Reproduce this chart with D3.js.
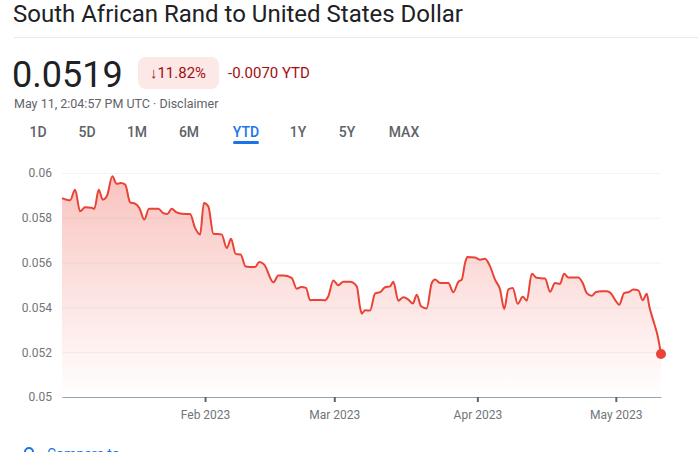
<!DOCTYPE html>
<html>
<head>
<meta charset="utf-8">
<script src="https://cdn.jsdelivr.net/npm/d3@7"></script>
<style>
  body { margin: 0; background: #fff; font-family: Roboto, Arial, sans-serif; }
  svg { display: block; }
</style>
</head>
<body>
<script>
const width = 698
const height = 452
const margin = ({top: 173, right: 37, bottom: 55, left: 62})

// rate series
const dates = [
  "2023-01-01 00", "2023-01-02 18", "2023-01-03 20", "2023-01-04 22", "2023-01-06 00",
  "2023-01-07 10", "2023-01-08 00", "2023-01-08 23", "2023-01-09 20", "2023-01-10 17",
  "2023-01-11 22", "2023-01-12 20", "2023-01-13 17", "2023-01-14 17", "2023-01-15 18",
  "2023-01-16 20", "2023-01-17 18", "2023-01-18 20", "2023-01-19 20", "2023-01-21 21",
  "2023-01-22 23", "2023-01-23 20", "2023-01-24 18", "2023-01-25 20", "2023-01-26 23",
  "2023-01-28 18", "2023-01-29 20", "2023-01-30 22", "2023-01-31 18", "2023-02-01 17",
  "2023-02-02 19", "2023-02-04 14", "2023-02-05 17", "2023-02-06 15", "2023-02-07 15",
  "2023-02-08 17", "2023-02-09 19", "2023-02-11 20", "2023-02-12 18", "2023-02-13 20",
  "2023-02-15 19", "2023-02-16 21", "2023-02-17 23", "2023-02-19 18", "2023-02-20 21",
  "2023-02-21 19", "2023-02-22 21", "2023-02-23 18", "2023-02-24 20", "2023-02-27 00",
  "2023-02-27 17", "2023-02-28 19", "2023-03-01 21", "2023-03-02 23", "2023-03-04 10",
  "2023-03-05 21", "2023-03-06 14", "2023-03-06 23", "2023-03-07 16", "2023-03-08 18",
  "2023-03-09 20", "2023-03-10 22", "2023-03-12 00", "2023-03-13 02", "2023-03-13 19",
  "2023-03-14 21", "2023-03-15 23", "2023-03-17 01", "2023-03-18 00", "2023-03-18 21",
  "2023-03-19 19", "2023-03-21 00", "2023-03-22 03", "2023-03-22 20", "2023-03-23 22",
  "2023-03-25 17", "2023-03-26 19", "2023-03-27 21", "2023-03-28 15", "2023-03-29 08",
  "2023-03-29 20", "2023-03-31 12", "2023-04-01 14", "2023-04-02 16", "2023-04-03 18",
  "2023-04-04 20", "2023-04-05 22", "2023-04-06 20", "2023-04-07 17", "2023-04-08 16",
  "2023-04-09 18", "2023-04-10 20", "2023-04-11 17", "2023-04-12 19", "2023-04-13 21",
  "2023-04-15 16", "2023-04-16 18", "2023-04-17 20", "2023-04-18 22", "2023-04-19 19",
  "2023-04-20 17", "2023-04-22 21", "2023-04-23 20", "2023-04-24 17", "2023-04-25 19",
  "2023-04-26 17", "2023-04-27 23", "2023-04-29 01", "2023-04-29 21", "2023-04-30 20",
  "2023-05-01 18", "2023-05-02 19", "2023-05-03 22", "2023-05-04 19", "2023-05-05 21",
  "2023-05-06 20", "2023-05-07 17", "2023-05-08 06", "2023-05-09 07", "2023-05-10 00",
  "2023-05-10 19"
]
const rates = [
  0.05888, 0.05878, 0.05925, 0.05829, 0.05847,
  0.05845, 0.05840, 0.05925, 0.05881, 0.05896,
  0.05985, 0.05952, 0.05955, 0.05948, 0.05869,
  0.05863, 0.05844, 0.05792, 0.05840, 0.05840,
  0.05821, 0.05817, 0.05840, 0.05824, 0.05818,
  0.05817, 0.05755, 0.05725, 0.05866, 0.05851,
  0.05729, 0.05726, 0.05665, 0.05706, 0.05639,
  0.05636, 0.05583, 0.05580, 0.05603, 0.05591,
  0.05512, 0.05542, 0.05542, 0.05532, 0.05483,
  0.05491, 0.05487, 0.05432, 0.05433, 0.05432,
  0.05450, 0.05520, 0.05499, 0.05514, 0.05514,
  0.05494, 0.05400, 0.05372, 0.05387, 0.05386,
  0.05462, 0.05468, 0.05490, 0.05494, 0.05514,
  0.05430, 0.05445, 0.05435, 0.05417, 0.05457,
  0.05405, 0.05395, 0.05509, 0.05524, 0.05509,
  0.05509, 0.05468, 0.05514, 0.05524, 0.05598,
  0.05625, 0.05623, 0.05613, 0.05617, 0.05583,
  0.05524, 0.05480, 0.05393, 0.05480, 0.05487,
  0.05416, 0.05447, 0.05430, 0.05550, 0.05532,
  0.05529, 0.05470, 0.05509, 0.05505, 0.05550,
  0.05534, 0.05534, 0.05509, 0.05464, 0.05452,
  0.05469, 0.05472, 0.05472, 0.05464, 0.05434,
  0.05412, 0.05464, 0.05469, 0.05480, 0.05476,
  0.05432, 0.05461, 0.05405, 0.05330, 0.05279,
  0.05192
]

const yTicks = [0.05, 0.052, 0.054, 0.056, 0.058, 0.06]
const xTickDates = ["2023-02-01", "2023-03-01", "2023-04-01", "2023-05-01"]
const xTickLabels = ["Feb 2023", "Mar 2023", "Apr 2023", "May 2023"]
const ranges = ["1D", "5D", "1M", "6M", "YTD", "1Y", "5Y", "MAX"]
const rangeX = [38, 87, 137, 189, 246, 298, 347, 404]

const parseTime = d3.utcParse("%Y-%m-%d %H")
const parseDay = d3.utcParse("%Y-%m-%d")
const data = dates.map((d, i) => ({date: parseTime(d), value: rates[i]}))

const svg = d3.select("body").append("svg")
    .attr("width", width)
    .attr("height", height)
    .attr("viewBox", [0, 0, width, height])

// header
svg.append("text")
    .attr("x", 13).attr("y", 22)
    .attr("font-size", 24)
    .attr("fill", "#202124")
    .text("South African Rand to United States Dollar")

svg.append("line")
    .attr("x1", 14).attr("x2", width)
    .attr("y1", 37.5).attr("y2", 37.5)
    .attr("stroke", "#e8eaed")

svg.append("text")
    .attr("x", 12).attr("y", 87)
    .attr("font-size", 36)
    .attr("fill", "#202124")
    .text("0.0519")

svg.append("rect")
    .attr("x", 138).attr("y", 57)
    .attr("width", 81).attr("height", 32)
    .attr("rx", 8)
    .attr("fill", "#fce8e6")

svg.append("text")
    .attr("x", 178).attr("y", 78)
    .attr("text-anchor", "middle")
    .attr("font-size", 15)
    .attr("fill", "#a50e0e")
    .text("↓11.82%")

svg.append("text")
    .attr("x", 228).attr("y", 78)
    .attr("font-size", 15)
    .attr("fill", "#a50e0e")
    .text("-0.0070 YTD")

svg.append("text")
    .attr("x", 14).attr("y", 108)
    .attr("font-size", 12.5)
    .attr("fill", "#5f6368")
    .text("May 11, 2:04:57 PM UTC · Disclaimer")

svg.append("g")
  .selectAll("text")
  .data(ranges)
  .join("text")
    .attr("x", (d, i) => rangeX[i])
    .attr("y", 137)
    .attr("text-anchor", "middle")
    .attr("font-size", 14)
    .attr("font-weight", 500)
    .attr("fill", d => d === "YTD" ? "#1a73e8" : "#5f6368")
    .text(d => d)

svg.append("rect")
    .attr("x", 233).attr("y", 141)
    .attr("width", 26).attr("height", 3)
    .attr("rx", 1.5)
    .attr("fill", "#1a73e8")

// chart
const x = d3.scaleUtc()
    .domain(d3.extent(data, d => d.date))
    .range([margin.left, width - margin.right])

const y = d3.scaleLinear()
    .domain([0.05, 0.06])
    .range([height - margin.bottom, margin.top])

const defs = svg.append("defs")
const grad = defs.append("linearGradient")
    .attr("id", "fade")
    .attr("gradientUnits", "userSpaceOnUse")
    .attr("x1", 0).attr("x2", 0)
    .attr("y1", y(0.06)).attr("y2", y(0.05))
grad.append("stop").attr("offset", 0).attr("stop-color", "#ea4335").attr("stop-opacity", 0.32)
grad.append("stop").attr("offset", 1).attr("stop-color", "#ea4335").attr("stop-opacity", 0)

const yAxis = g => g
    .attr("transform", `translate(${margin.left},0)`)
    .call(d3.axisLeft(y)
        .tickValues(yTicks)
        .tickFormat(d3.format("~g"))
        .tickSize(0)
        .tickPadding(10))
    .call(g => g.select(".domain").remove())
    .call(g => g.selectAll(".tick text")
        .attr("font-family", "Roboto, Arial, sans-serif")
        .attr("font-size", 12)
        .attr("fill", "#70757a"))
    .call(g => g.selectAll(".tick line").clone()
        .attr("stroke", "#f1f3f4")
        .attr("x2", width - margin.left - margin.right))

svg.append("g").call(yAxis)

const area = d3.area()
    .x(d => x(d.date))
    .y0(y(0.05))
    .y1(d => y(d.value))
    .curve(d3.curveMonotoneX)

const line = d3.line()
    .x(d => x(d.date))
    .y(d => y(d.value))
    .curve(d3.curveMonotoneX)

svg.append("path")
    .datum(data)
    .attr("fill", "url(#fade)")
    .attr("d", area)

const xAxis = g => g
    .attr("transform", `translate(0,${height - margin.bottom})`)
    .call(d3.axisBottom(x)
        .tickValues(xTickDates.map(parseDay))
        .tickFormat((d, i) => xTickLabels[i])
        .tickSize(5)
        .tickSizeOuter(0)
        .tickPadding(8))
    .call(g => g.select(".domain").attr("stroke", "#9aa0a6"))
    .call(g => g.selectAll(".tick line").attr("stroke", "#5f6368").attr("stroke-width", 2))
    .call(g => g.selectAll(".tick text")
        .attr("font-family", "Roboto, Arial, sans-serif")
        .attr("font-size", 12)
        .attr("fill", "#70757a"))

svg.append("g").call(xAxis)

svg.append("path")
    .datum(data)
    .attr("fill", "none")
    .attr("stroke", "#ea4335")
    .attr("stroke-width", 2)
    .attr("stroke-linejoin", "round")
    .attr("d", line)

const last = data[data.length - 1]
svg.append("circle")
    .attr("cx", x(last.date))
    .attr("cy", y(last.value))
    .attr("r", 5)
    .attr("fill", "#ea4335")

// compare to (cut off at the bottom, as in the page)
svg.append("circle")
    .attr("cx", 29).attr("cy", 452)
    .attr("r", 4)
    .attr("fill", "none")
    .attr("stroke", "#1a73e8")
    .attr("stroke-width", 2)

svg.append("text")
    .attr("x", 47).attr("y", 459)
    .attr("font-size", 14)
    .attr("fill", "#1a73e8")
    .text("Compare to")
</script>
</body>
</html>
